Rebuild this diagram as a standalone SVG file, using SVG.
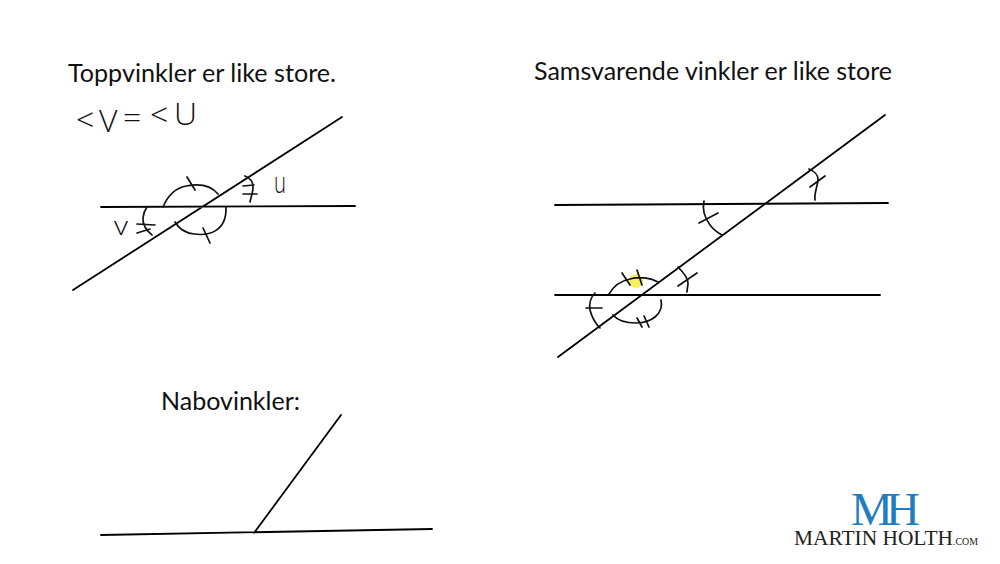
<svg xmlns="http://www.w3.org/2000/svg" width="1000" height="564" viewBox="0 0 1000 564">
<style>
.t{font-family:"Lato","Open Sans","Liberation Sans",sans-serif;font-size:25px;fill:#111}
.l{fill:none;stroke:#000;stroke-width:1.8;stroke-linecap:round;stroke-linejoin:round}
.a{fill:none;stroke:#111;stroke-width:1.7;stroke-linecap:round;stroke-linejoin:round}
.h{font-family:"Open Sans","Liberation Sans",sans-serif;font-weight:300;fill:#111}
.s{font-family:"Liberation Serif",serif}
</style>
<rect width="1000" height="564" fill="#fff"/>
<g id="connectors">
<path class="l" d="M73 290L342 117M101 207L355 206"/>
<path class="l" d="M555 205L888 203M558 357L885 115M555 295L880 295"/>
<path class="l" d="M101 535L432 529M254 533L341 415"/>
</g>
<g id="toppvinkler">
<text class="t" x="68" y="82" textLength="268" lengthAdjust="spacingAndGlyphs">Toppvinkler er like store.</text>
<text class="h" font-size="32" x="76 99 118 123 145 150 174" y="131 132 128 128 126 126 125">&lt;V = &lt;U</text>
<path class="a" d="M163 207C168 195 176 188 186 186C196 184 209 183 218 194M187 177L195 190"/>
<path class="a" d="M175 222C179 229 185 233 194 234C208 236 227 232 226 207M203 228L210 243"/>
<path class="a" d="M245 176C250 178 253 182 253 187C253 192 251 197 250 202M243 186L254 185M243 194L257 194"/>
<path class="a" d="M147 207C142 214 142 222 145 227C147 231 150 233 152 235M137 224L155 225M137 233L150 229"/>
<text class="h" x="114" y="235" font-size="25" textLength="14" lengthAdjust="spacingAndGlyphs">v</text>
<text class="h" x="274" y="193" font-size="29" textLength="12" lengthAdjust="spacingAndGlyphs">u</text>
</g>
<g id="samsvarende">
<text class="t" x="534" y="80" textLength="358" lengthAdjust="spacingAndGlyphs">Samsvarende vinkler er like store</text>
<circle cx="636" cy="281" r="7" fill="#f2ee3c" opacity=".85"/>
<path class="a" d="M704 201C702 210 704 217 710 225C714 230 718 233 722 235M699 223L718 213"/>
<path class="a" d="M809 169C814 171 818 175 818 179C818 186 814 192 815 200M810 187L825 176"/>
<path class="a" d="M609 294C613 287 620 281 630 279C640 276 651 278 658 282M622 273L630 285M637 270L642 285"/>
<path class="a" d="M678 267C684 273 688 278 688 283C688 286 687 289 687 292M678 286L697 273"/>
<path class="a" d="M595 293C590 298 589 304 590 310C592 318 596 324 600 328M586 308L602 308"/>
<path class="a" d="M613 315C618 321 626 323 636 323C651 323 664 314 661 300M637 318L642 327M644 316L649 327"/>
</g>
<g id="nabovinkler">
<text class="t" x="161" y="410" textLength="139" lengthAdjust="spacingAndGlyphs">Nabovinkler:</text>
</g>
<g id="logo">
<text class="s" x="851 886" y="525" font-size="47" fill="#1f7dc0">MH</text>
<text class="s" x="794" y="545" font-size="20" fill="#222" textLength="159" lengthAdjust="spacingAndGlyphs">MARTIN HOLTH</text>
<text class="s" x="953" y="545" font-size="10" fill="#222" textLength="25" lengthAdjust="spacingAndGlyphs">.COM</text>
</g>
</svg>
